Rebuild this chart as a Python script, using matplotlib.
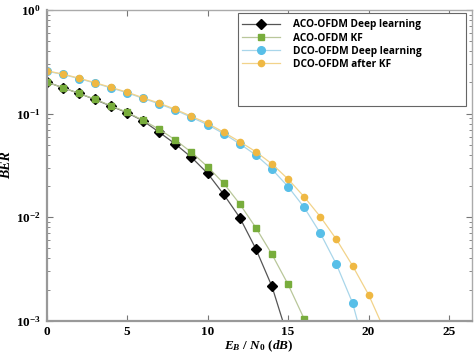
import matplotlib
matplotlib.use("Agg")
import matplotlib.pyplot as plt
from matplotlib.ticker import LogLocator, NullFormatter, FixedLocator
from matplotlib.patches import Rectangle

plt.rcParams["font.family"] = "Liberation Serif"
plt.rcParams["font.weight"] = "bold"
plt.rcParams["mathtext.fontset"] = "custom"
plt.rcParams["mathtext.rm"] = "Liberation Serif:bold"
plt.rcParams["mathtext.it"] = "Liberation Serif:italic:bold"
plt.rcParams["mathtext.bf"] = "Liberation Serif:bold"
plt.rcParams["mathtext.default"] = "rm"

snr_aco_dl = [0, 1, 2, 3, 4, 5, 6, 7, 8, 9, 10, 11, 12, 13, 14, 15]
ber_aco_dl = [0.202, 0.178, 0.157, 0.137, 0.118, 0.102, 0.0850, 0.066, 0.0508, 0.0378,
              0.0265, 0.0166, 0.0099, 0.00493, 0.00214, 0.00068]

snr_aco_kf = [0, 1, 2, 3, 4, 5, 6, 7, 8, 9, 10, 11, 12, 13, 14, 15, 16]
ber_aco_kf = [0.202, 0.178, 0.157, 0.138, 0.119, 0.103, 0.0860, 0.0705, 0.0556, 0.0423,
              0.0307, 0.0212, 0.0134, 0.0079, 0.00437, 0.00224, 0.00104]

snr_dco_dl = [0, 1, 2, 3, 4, 5, 6, 7, 8, 9, 10, 11, 12, 13, 14, 15, 16, 17, 18, 19, 20]
ber_dco_dl = [0.257, 0.239, 0.218, 0.197, 0.177, 0.159, 0.140, 0.124, 0.108, 0.092,
              0.078, 0.064, 0.051, 0.0398, 0.029, 0.0197, 0.0124, 0.0070, 0.0035,
              0.00149, 0.0004]

snr_dco_kf = [0, 1, 2, 3, 4, 5, 6, 7, 8, 9, 10, 11, 12, 13, 14, 15, 16, 17, 18, 19, 20, 21]
ber_dco_kf = [0.259, 0.241, 0.220, 0.199, 0.179, 0.161, 0.142, 0.126, 0.110, 0.094,
              0.0805, 0.066, 0.0535, 0.0428, 0.0326, 0.0233, 0.0157, 0.0101, 0.0061,
              0.0034, 0.00178, 0.0008]

labels = ["ACO-OFDM Deep learning", "ACO-OFDM KF",
          "DCO-OFDM Deep learning", "DCO-OFDM after KF"]

W, H = 474, 356
fig = plt.figure(figsize=(W / 100, H / 100), dpi=100)
ax = fig.add_axes([46.5 / W, 1 - 320.7 / H, (471.7 - 46.5) / W, (320.7 - 10) / H])

ax.plot(snr_aco_dl, ber_aco_dl, color="#555555", lw=0.9, marker="D", ms=5,
        mfc="black", mec="black", label=labels[0])
ax.plot(snr_aco_kf, ber_aco_kf, color="#b9c79a", lw=0.9, marker="s", ms=4.5,
        mfc="#78ad3c", mec="#78ad3c", label=labels[1])
ax.plot(snr_dco_dl, ber_dco_dl, color="#a9d6ea", lw=0.9, marker="o", ms=5.5,
        mfc="#58bfe8", mec="#58bfe8", label=labels[2])
ax.plot(snr_dco_kf, ber_dco_kf, color="#f2d38a", lw=0.9, marker="o", ms=4.5,
        mfc="#efb843", mec="#efb843", label=labels[3])

ax.add_patch(Rectangle((238 / W, 1 - 106 / H), (466 - 238) / W, (106 - 13) / H,
                       transform=fig.transFigure, facecolor="white",
                       edgecolor="#666666", lw=0.8, zorder=4, clip_on=False))

ax.set_yscale("log")
ax.set_ylim(1e-3, 1)
ax.set_xlim(0, 26.4)
ax.xaxis.set_major_locator(FixedLocator([0, 5, 10, 15, 20, 25]))
ax.yaxis.set_major_locator(LogLocator(base=10, numticks=10))
ax.yaxis.set_minor_locator(LogLocator(base=10, subs=range(2, 10), numticks=10))
ax.yaxis.set_minor_formatter(NullFormatter())

for s in ax.spines.values():
    s.set_color("#aaaaaa")
    s.set_linewidth(1.0)
ax.spines["left"].set_linewidth(1.6)
ax.spines["bottom"].set_linewidth(1.6)
ax.spines["left"].set_color("#999999")
ax.spines["bottom"].set_color("#999999")

ax.tick_params(which="both", direction="in", top=True, right=True, color="#777777",
               labelsize=9.5)
ax.tick_params(which="major", length=4, width=0.8)
ax.tick_params(which="minor", length=2, width=0.6)
ax.tick_params(axis="x", pad=3.5)
ax.tick_params(axis="y", pad=4)

fig.text(7 / W, 1 - 165 / H, "BER", rotation=90, ha="center", va="center",
         fontsize=10, fontstyle="italic", fontweight="bold")
fig.text(259 / W, 1 - 346 / H, r"$\mathit{E_{B}\ /\ N_{0}\ (dB)}$", ha="center",
         va="center", fontsize=9.5)

leg = ax.legend(loc="upper left", bbox_transform=fig.transFigure,
                bbox_to_anchor=(241.5 / W, 1 - 19.5 / H), borderaxespad=0,
                prop={"family": "Open Sans", "weight": "bold", "size": 7.3},
                frameon=False, handlelength=3.75, handletextpad=1.3,
                labelspacing=0.2, borderpad=0)
leg.set_zorder(5)

fig.savefig("out.png", dpi=100)
